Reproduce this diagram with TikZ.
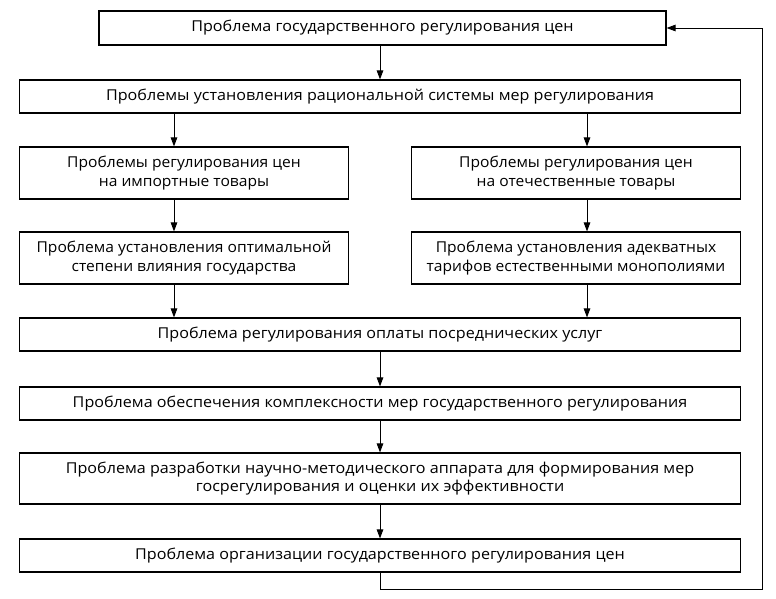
\documentclass[tikz,border=0pt]{standalone}
\usepackage{fontspec}
\setmainfont{Open Sans}
\newfontfamily\widefont{Open Sans}[FakeStretch=1.075]
\newfontfamily\narrowfont{Open Sans}[FakeStretch=1.04]
\usetikzlibrary{arrows.meta}
\begin{document}
\begin{tikzpicture}[x=1pt,y=-1pt,
  box/.style={draw,line width=1.1pt,inner sep=0pt,align=center,font=\widefont\fontsize{15}{18.5}\selectfont},
  sbox/.style={box,font=\narrowfont\fontsize{15}{18.5}\selectfont,minimum width=329pt,minimum height=52pt},
  arr/.style={-{Triangle[length=9pt,width=6.5pt]},line width=1pt}]
\useasboundingbox (0,0) rectangle (776,598);
\node[box,minimum width=567pt,minimum height=34pt] (b1) at (382.5,28) {Проблема государственного регулирования цен};
\node[box,minimum width=721pt,minimum height=33pt] (b2) at (380,96.5) {Проблемы установления рациональной системы мер регулирования};
\node[sbox] (b3l) at (184,173) {Проблемы регулирования цен\\на импортные товары};
\node[sbox] (b3r) at (576,173) {Проблемы регулирования цен\\на отечественные товары};
\node[sbox] (b4l) at (184,258) {Проблема установления оптимальной\\степени влияния государства};
\node[sbox] (b4r) at (576,258) {Проблема установления адекватных\\тарифов естественными монополиями};
\node[box,minimum width=721pt,minimum height=33pt] (b5) at (380,334.5) {Проблема регулирования оплаты посреднических услуг};
\node[box,minimum width=721pt,minimum height=33pt] (b6) at (380,403.5) {Проблема обеспечения комплексности мер государственного регулирования};
\node[box,minimum width=721pt,minimum height=51pt] (b7) at (380,478.5) {Проблема разработки научно-методического аппарата для формирования мер\\госрегулирования и оценки их эффективности};
\node[box,minimum width=721pt,minimum height=33pt] (b8) at (380,555.5) {Проблема организации государственного регулирования цен};
\draw[arr] (b1.south -| b2) -- (b2.north);
\draw[arr] (b2.south -| b3l) ++(-10,0) coordinate (a1) -- (a1 |- b3l.north);
\draw[arr] (b2.south -| b3r) ++(11,0) coordinate (a2) -- (a2 |- b3r.north);
\draw[arr] (a1 |- b3l.south) -- (a1 |- b4l.north);
\draw[arr] (a2 |- b3r.south) -- (a2 |- b4r.north);
\draw[arr] (a1 |- b4l.south) -- (a1 |- b5.north);
\draw[arr] (a2 |- b4r.south) -- (a2 |- b5.north);
\draw[arr] (b5.south) -- (b6.north);
\draw[arr] (b6.south) -- (b7.north);
\draw[arr] (b7.south) -- (b8.north);
\coordinate (c1) at (380,589);
\coordinate (c2) at (762,589);
\coordinate (c3) at (762,28);
\draw[arr] (b8.south) -- (c1) -- (c2) -- (c3) -- (b1.east);
\end{tikzpicture}
\end{document}
